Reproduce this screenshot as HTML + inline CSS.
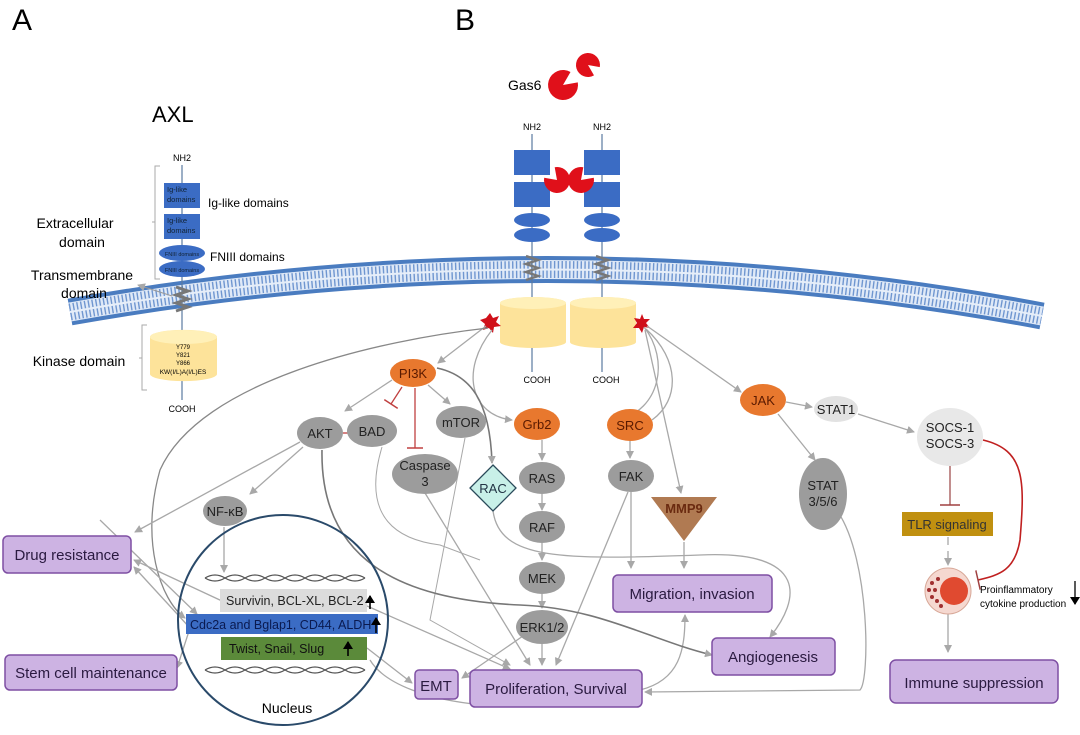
<!DOCTYPE html>
<html><head><meta charset="utf-8"><style>
html,body{margin:0;padding:0;background:#fff}
svg{display:block}
text{font-family:"Liberation Sans",Arial,sans-serif}
</style></head><body>
<svg width="1080" height="735" viewBox="0 0 1080 735" xmlns="http://www.w3.org/2000/svg">
<defs>
<marker id="ag" markerWidth="8" markerHeight="8" refX="7" refY="4" orient="auto" markerUnits="userSpaceOnUse"><path d="M0,0 L8,4 L0,8 z" fill="#a8a8a8"/></marker>
<marker id="ab" markerWidth="8" markerHeight="10" refX="7" refY="5" orient="auto" markerUnits="userSpaceOnUse"><path d="M0,0 L8,5 L0,10 z" fill="#000"/></marker>
<marker id="tr" markerWidth="4" markerHeight="16" refX="2" refY="8" orient="auto" markerUnits="userSpaceOnUse"><path d="M2,0 L2,16" stroke="#c04040" stroke-width="1.5"/></marker>
<marker id="tr2" markerWidth="4" markerHeight="20" refX="2" refY="10" orient="auto" markerUnits="userSpaceOnUse"><path d="M2,0 L2,20" stroke="#a04040" stroke-width="1.5"/></marker>
</defs>

<text x="12" y="30" font-size="30">A</text>
<text x="455" y="30" font-size="30">B</text>
<text x="152" y="122" font-size="22">AXL</text>

<!-- Membrane -->
<path d="M70,312 Q560,225 1042,316" fill="none" stroke="#4a7cc0" stroke-width="27"/>
<path d="M70,312 Q560,225 1042,316" fill="none" stroke="#dfe9f7" stroke-width="19"/>
<path d="M70,312 Q560,225 1042,316" fill="none" stroke="#6f96d0" stroke-width="17" stroke-dasharray="1.4 2.4"/>
<path d="M70,312 Q560,225 1042,316" fill="none" stroke="#e6eef9" stroke-width="2"/>

<!-- A: AXL receptor -->
<text x="182" y="161" font-size="9" text-anchor="middle">NH2</text>
<line x1="182" y1="165" x2="182" y2="400" stroke="#5a7aa0" stroke-width="1.2"/>
<path d="M160,166 h-5 v113 h5 M155,222 h-3" fill="none" stroke="#aaa" stroke-width="1"/>
<path d="M147,325 h-5 v65 h5 M142,358 h-3" fill="none" stroke="#aaa" stroke-width="1"/>
<rect x="164" y="183" width="36" height="25" fill="#3b6cc4"/>
<text x="167" y="192" font-size="7.5" fill="#123">Ig-like</text><text x="167" y="202" font-size="7.5" fill="#123">domains</text>
<rect x="164" y="214" width="36" height="25" fill="#3b6cc4"/>
<text x="167" y="223" font-size="7.5" fill="#123">Ig-like</text><text x="167" y="233" font-size="7.5" fill="#123">domains</text>
<ellipse cx="182" cy="253" rx="23" ry="8" fill="#3b6cc4"/>
<ellipse cx="182" cy="269" rx="23" ry="8" fill="#3b6cc4"/>
<text x="182" y="256" font-size="5.5" text-anchor="middle" fill="#123">FNIII domains</text>
<text x="182" y="272" font-size="5.5" text-anchor="middle" fill="#123">FNIII domains</text>
<path d="M176,287 l12,4 l-12,4 l12,4 l-12,4 l12,4 l-12,4" fill="none" stroke="#777" stroke-width="3"/>
<line x1="172" y1="296" x2="138" y2="285" stroke="#999" stroke-width="1" marker-end="url(#ag)"/>
<path d="M150,337 a33,7 0 0 1 67,0 v37 a33,7 0 0 1 -67,0 z" fill="#fde39a"/>
<ellipse cx="183.5" cy="337" rx="33.5" ry="7" fill="#fff0b8"/>
<text x="183" y="349" font-size="6" text-anchor="middle">Y779</text>
<text x="183" y="357" font-size="6" text-anchor="middle">Y821</text>
<text x="183" y="365" font-size="6" text-anchor="middle">Y866</text>
<text x="183" y="374" font-size="6.5" text-anchor="middle">KW(I/L)A(I/L)ES</text>
<text x="182" y="412" font-size="9" text-anchor="middle">COOH</text>
<text x="208" y="207" font-size="12">Ig-like domains</text>
<text x="210" y="261" font-size="12">FNIII domains</text>
<text x="75" y="228" font-size="14" text-anchor="middle">Extracellular</text>
<text x="82" y="247" font-size="14" text-anchor="middle">domain</text>
<text x="82" y="280" font-size="14" text-anchor="middle">Transmembrane</text>
<text x="84" y="298" font-size="14" text-anchor="middle">domain</text>
<text x="79" y="366" font-size="14" text-anchor="middle">Kinase domain</text>

<!-- B: Gas6 -->
<text x="508" y="90" font-size="14">Gas6</text>
<path d="M563,85 L577.8,82.4 A15,15 0 1 1 570.5,72 z" fill="#e0101a"/>
<path d="M588,65 L594,75.4 A12,12 0 1 1 599.8,67.1 z" fill="#e0101a"/>
<g>
<text x="532" y="130" font-size="9" text-anchor="middle">NH2</text>
<line x1="532" y1="134" x2="532" y2="372" stroke="#5a7aa0" stroke-width="1.2"/>
<rect x="514" y="150" width="36" height="25" fill="#3b6cc4"/>
<rect x="514" y="182" width="36" height="25" fill="#3b6cc4"/>
<ellipse cx="532" cy="220" rx="18" ry="7" fill="#3b6cc4"/>
<ellipse cx="532" cy="235" rx="18" ry="7" fill="#3b6cc4"/>
<path d="M526,256 l12,4 l-12,4 l12,4 l-12,4 l12,4 l-12,4" fill="none" stroke="#777" stroke-width="2.5"/>
<path d="M500,303 a33,6 0 0 1 66,0 v39 a33,6 0 0 1 -66,0 z" fill="#fde39a"/>
<ellipse cx="533" cy="303" rx="33" ry="6" fill="#fff0b8"/>
<text x="537" y="383" font-size="9" text-anchor="middle">COOH</text>
</g>
<g>
<text x="602" y="130" font-size="9" text-anchor="middle">NH2</text>
<line x1="602" y1="134" x2="602" y2="372" stroke="#5a7aa0" stroke-width="1.2"/>
<rect x="584" y="150" width="36" height="25" fill="#3b6cc4"/>
<rect x="584" y="182" width="36" height="25" fill="#3b6cc4"/>
<ellipse cx="602" cy="220" rx="18" ry="7" fill="#3b6cc4"/>
<ellipse cx="602" cy="235" rx="18" ry="7" fill="#3b6cc4"/>
<path d="M596,256 l12,4 l-12,4 l12,4 l-12,4 l12,4 l-12,4" fill="none" stroke="#777" stroke-width="2.5"/>
<path d="M570,303 a33,6 0 0 1 66,0 v39 a33,6 0 0 1 -66,0 z" fill="#fde39a"/>
<ellipse cx="603" cy="303" rx="33" ry="6" fill="#fff0b8"/>
<text x="606" y="383" font-size="9" text-anchor="middle">COOH</text>
</g>
<path d="M557,180 L554.7,167.2 A13,13 0 1 1 544.2,177.7 z" fill="#e0101a"/>
<path d="M581,180 L593.8,177.7 A13,13 0 1 1 583.3,167.2 z" fill="#e0101a"/>
<polygon points="490,313 493,318 499,316 496,322 501,326 494,327 493,333 489,328 483,330 485,324 480,320 486,318" fill="#d0101a"/>
<polygon points="642,314 644,319 650,319 646,323 650,328 644,327 642,333 639,328 633,328 637,323 634,318 640,319" fill="#d0101a"/>

<g fill="none" stroke="#a8a8a8" stroke-width="1.3">
<path d="M486,326 L438,363" marker-end="url(#ag)"/>
<path d="M488,328 C380,340 200,380 160,470 C140,540 160,600 185,618" stroke="#888" marker-end="url(#ag)"/>
<path d="M492,330 C460,370 470,415 512,420" marker-end="url(#ag)"/>
<path d="M644,327 C670,360 660,410 618,420" marker-end="url(#ag)"/>
<path d="M646,329 C680,360 680,400 652,420"/>
<path d="M645,330 L681,493" marker-end="url(#ag)"/>
<path d="M647,326 L741,392" marker-end="url(#ag)"/>
<path d="M392,380 L345,411" marker-end="url(#ag)"/>
<path d="M428,385 L450,404" marker-end="url(#ag)"/>
<path d="M300,442 L135,532" marker-end="url(#ag)"/>
<path d="M303,447 L250,494" marker-end="url(#ag)"/>
<path d="M224,527 V572" marker-end="url(#ag)"/>
<path d="M542,440 V460" marker-end="url(#ag)"/><path d="M542,494 V510" marker-end="url(#ag)"/>
<path d="M542,543 V560" marker-end="url(#ag)"/><path d="M542,594 V608" marker-end="url(#ag)"/>
<path d="M542,644 V665" marker-end="url(#ag)"/>
<path d="M523,636 L462,678" marker-end="url(#ag)"/>
<path d="M630,441 V458" marker-end="url(#ag)"/>
<path d="M631,492 V568" marker-end="url(#ag)"/>
<path d="M628,492 L556,665" marker-end="url(#ag)"/>
<path d="M684,542 V568" marker-end="url(#ag)"/>
<path d="M425,493 L530,665" marker-end="url(#ag)"/>
<path d="M465,438 L430,620 L510,665" marker-end="url(#ag)" stroke-width="1"/>
<path d="M382,447 C360,520 400,540 440,545 L480,560" stroke-width="1"/>
<path d="M493,511 C500,560 560,560 700,555 C810,550 800,600 770,637" marker-end="url(#ag)"/>
<path d="M838,512 C870,560 870,680 860,690 L645,692" marker-end="url(#ag)"/>
<path d="M786,402 L812,407" marker-end="url(#ag)"/>
<path d="M778,414 L815,460" marker-end="url(#ag)"/>
<path d="M858,414 L914,432" marker-end="url(#ag)"/>
<path d="M948,537 V565" stroke-dasharray="8 6" marker-end="url(#ag)"/>
<path d="M948,614 V652" marker-end="url(#ag)"/>
<path d="M222,601 L134,560" marker-end="url(#ag)"/>
<path d="M190,628 L134,567" marker-end="url(#ag)"/>
<path d="M190,628 L177,668" marker-end="url(#ag)"/>
<path d="M367,648 L412,683" marker-end="url(#ag)"/>
<path d="M367,606 L510,669" marker-end="url(#ag)"/>
<path d="M370,660 C400,710 550,720 640,690 C680,680 685,650 685,615" marker-end="url(#ag)"/>
<path d="M100,520 L197,614" marker-end="url(#ag)"/>
</g>
<g fill="none" stroke="#777" stroke-width="1.6">
<path d="M437,368 C470,375 490,400 492,463" marker-end="url(#ag)"/>
<path d="M322,450 C320,560 400,600 520,605 C600,608 650,640 712,655" marker-end="url(#ag)"/>
</g>
<g fill="none" stroke-width="1.3">
<path d="M343,433 L358,433" stroke="#c04040" marker-end="url(#tr)"/>
<path d="M402,387 L391,404" stroke="#c04040" marker-end="url(#tr)"/>
<path d="M415,388 L415,448" stroke="#c04040" marker-end="url(#tr)"/>
<path d="M950,464 L950,505" stroke="#a05050" marker-end="url(#tr2)"/>
<path d="M983,440 C1025,450 1025,480 1020,540 C1015,570 1000,575 978,580" stroke="#c02020" stroke-width="1.6" marker-end="url(#tr2)"/>
</g>

<g font-size="13" text-anchor="middle" fill="#222">
<ellipse cx="413" cy="373" rx="23" ry="14" fill="#e8782e"/><text x="413" y="378" fill="#5a1a00">PI3K</text>
<ellipse cx="320" cy="433" rx="23" ry="16" fill="#9c9c9c"/><text x="320" y="438">AKT</text>
<ellipse cx="372" cy="431" rx="25" ry="16" fill="#9c9c9c"/><text x="372" y="436">BAD</text>
<ellipse cx="461" cy="422" rx="25" ry="16" fill="#9c9c9c"/><text x="461" y="427">mTOR</text>
<ellipse cx="425" cy="474" rx="33" ry="20" fill="#9c9c9c"/><text x="425" y="470">Caspase</text><text x="425" y="486">3</text>
<polygon points="493,465 516,488 493,511 470,488" fill="#c8f0e8" stroke="#2a4a5a" stroke-width="1.3"/><text x="493" y="493" fill="#234">RAC</text>
<ellipse cx="537" cy="424" rx="23" ry="16" fill="#e8782e"/><text x="537" y="429" fill="#5a1a00">Grb2</text>
<ellipse cx="542" cy="478" rx="23" ry="16" fill="#9c9c9c"/><text x="542" y="483">RAS</text>
<ellipse cx="542" cy="527" rx="23" ry="16" fill="#9c9c9c"/><text x="542" y="532">RAF</text>
<ellipse cx="542" cy="578" rx="23" ry="16" fill="#9c9c9c"/><text x="542" y="583">MEK</text>
<ellipse cx="542" cy="627" rx="26" ry="17" fill="#9c9c9c"/><text x="542" y="632">ERK1/2</text>
<ellipse cx="630" cy="425" rx="23" ry="16" fill="#e8782e"/><text x="630" y="430" fill="#5a1a00">SRC</text>
<ellipse cx="631" cy="476" rx="23" ry="16" fill="#9c9c9c"/><text x="631" y="481">FAK</text>
<polygon points="651,497 717,497 684,541" fill="#b07a52"/><text x="684" y="513" font-weight="bold" fill="#6a2a10">MMP9</text>
<ellipse cx="763" cy="400" rx="23" ry="16" fill="#e8782e"/><text x="763" y="405" fill="#5a1a00">JAK</text>
<ellipse cx="836" cy="409" rx="22" ry="13" fill="#e2e2e2"/><text x="836" y="414">STAT1</text>
<ellipse cx="950" cy="437" rx="33" ry="29" fill="#e8e8e8"/><text x="950" y="432">SOCS-1</text><text x="950" y="448">SOCS-3</text>
<ellipse cx="823" cy="494" rx="24" ry="36" fill="#9c9c9c"/><text x="823" y="490">STAT</text><text x="823" y="506">3/5/6</text>
<rect x="902" y="512" width="91" height="24" fill="#c09010"/><text x="947" y="529" fill="#333">TLR signaling</text>
<ellipse cx="225" cy="511" rx="22" ry="15" fill="#9c9c9c"/><text x="225" y="516">NF-κB</text>
</g>
<circle cx="948" cy="591" r="23" fill="#f5d8d0" stroke="#d8a898"/>
<circle cx="954" cy="591" r="14" fill="#e04a30"/>
<g fill="#a03030"><circle cx="932" cy="583" r="2"/><circle cx="935" cy="590" r="2"/><circle cx="932" cy="597" r="2"/><circle cx="937" cy="601" r="2"/><circle cx="938" cy="579" r="2"/><circle cx="929" cy="590" r="2"/><circle cx="941" cy="606" r="2"/></g>
<text x="980" y="593" font-size="10">Proinflammatory</text>
<text x="980" y="607" font-size="10">cytokine production</text>
<line x1="1075" y1="581" x2="1075" y2="604" stroke="#000" stroke-width="1.3" marker-end="url(#ab)"/>

<circle cx="283" cy="620" r="105" fill="none" stroke="#2a4a6a" stroke-width="2"/>
<g stroke="#555" fill="none" stroke-width="1.2">
<path d="M205,578 q10,-6 20,0 t20,0 t20,0 t20,0 t20,0 t20,0 t20,0 t20,0"/>
<path d="M205,578 q10,6 20,0 t20,0 t20,0 t20,0 t20,0 t20,0 t20,0 t20,0"/>
<path d="M205,670 q10,-6 20,0 t20,0 t20,0 t20,0 t20,0 t20,0 t20,0 t20,0"/>
<path d="M205,670 q10,6 20,0 t20,0 t20,0 t20,0 t20,0 t20,0 t20,0 t20,0"/>
</g>
<rect x="220" y="589" width="147" height="23" fill="#dcdcdc"/>
<text x="226" y="605" font-size="12.5" fill="#222">Survivin, BCL-XL, BCL-2</text>
<rect x="186" y="614" width="192" height="20" fill="#3b6cc4"/>
<text x="190" y="629" font-size="12.5" fill="#0a1a50">Cdc2a and Bglap1, CD44, ALDH</text>
<rect x="221" y="637" width="146" height="23" fill="#5b8a3a"/>
<text x="229" y="653" font-size="12.5" fill="#111">Twist, Snail, Slug</text>
<g stroke="#000" stroke-width="1.6"><line x1="370" y1="609" x2="370" y2="596" marker-end="url(#ab)"/><line x1="376" y1="633" x2="376" y2="618" marker-end="url(#ab)"/><line x1="348" y1="656" x2="348" y2="642" marker-end="url(#ab)"/></g>
<text x="287" y="713" font-size="14" text-anchor="middle">Nucleus</text>

<g fill="#cdb3e3" stroke="#7e4fa3" stroke-width="1.5">
<rect x="3" y="536" width="128" height="37" rx="5"/>
<rect x="5" y="655" width="172" height="35" rx="5"/>
<rect x="415" y="670" width="43" height="29" rx="4"/>
<rect x="470" y="670" width="172" height="37" rx="5"/>
<rect x="613" y="575" width="159" height="37" rx="5"/>
<rect x="712" y="638" width="123" height="37" rx="5"/>
<rect x="890" y="660" width="168" height="43" rx="6"/>
</g>
<g font-size="15" fill="#2a1a40" text-anchor="middle">
<text x="67" y="560">Drug resistance</text>
<text x="91" y="678">Stem cell maintenance</text>
<text x="436" y="691">EMT</text>
<text x="556" y="694">Proliferation, Survival</text>
<text x="692" y="599">Migration, invasion</text>
<text x="773" y="662">Angiogenesis</text>
<text x="974" y="688">Immune suppression</text>
</g>
</svg>
</body></html>
